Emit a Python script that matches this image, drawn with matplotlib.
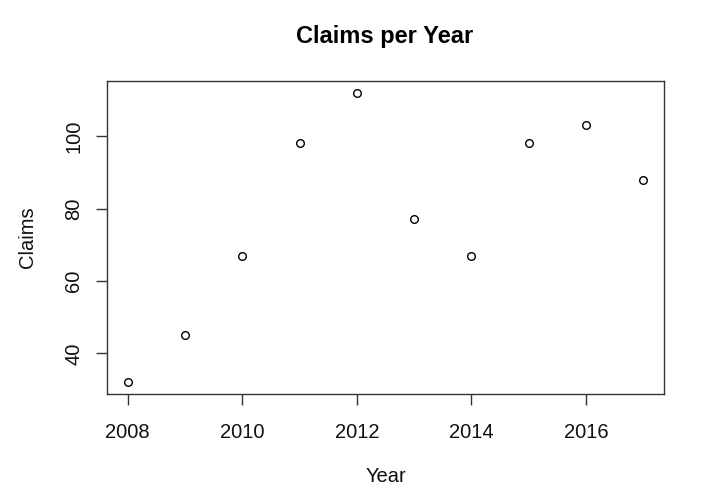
import matplotlib
matplotlib.use("Agg")
import matplotlib.pyplot as plt

# Data
years = [2008, 2009, 2010, 2011, 2012, 2013, 2014, 2015, 2016, 2017]
claims = [32, 45, 67, 98, 112, 77, 67, 98, 103, 88]
x_ticks = [2008, 2010, 2012, 2014, 2016]
y_ticks = [40, 60, 80, 100]

plt.rcParams["font.family"] = ["Liberation Sans", "DejaVu Sans"]

fig = plt.figure(figsize=(7.06, 4.96), dpi=100)
ax = fig.add_axes([107/706, 1 - 394/496, (664 - 107)/706, (394 - 81)/496])

ax.plot(years, claims, linestyle="none", marker="o", markersize=5.5,
        markerfacecolor="white", markeredgecolor="black", markeredgewidth=1)

# R style 4% padding
xr = max(years) - min(years)
yr = max(claims) - min(claims)
ax.set_xlim(min(years) - 0.04*xr, max(years) + 0.04*xr)
ax.set_ylim(min(claims) - 0.04*yr, max(claims) + 0.04*yr)

ax.set_xticks(x_ticks)
ax.set_yticks(y_ticks)
ax.set_yticklabels([str(v) for v in y_ticks], rotation=90, va="center")
ax.tick_params(length=8, width=1, color="#333333", labelsize=14.5,
               labelcolor="#111111")
ax.tick_params(axis="x", pad=13)
ax.tick_params(axis="y", pad=9)

for s in ax.spines.values():
    s.set_linewidth(1)
    s.set_color("#333333")

ax.set_xlabel("Year", fontsize=14.5, color="#111111", va="center")
ax.xaxis.set_label_coords(0.5, (394 - 476)/313)
ax.set_ylabel("Claims", fontsize=14.5, color="#111111", va="center")
ax.yaxis.set_label_coords((27 - 107)/557, 0.5)
fig.text(385/706, 1 - 36/496, "Claims per Year", ha="center", va="center",
         fontsize=17, fontweight="bold")

fig.savefig("out.png", dpi=100)
